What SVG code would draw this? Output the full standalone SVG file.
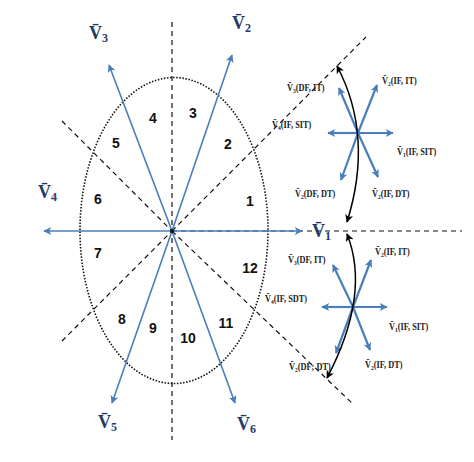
<svg xmlns="http://www.w3.org/2000/svg" width="474" height="462" viewBox="0 0 474 462">
<defs>
<marker id="ab" viewBox="0 0 10 10" refX="9" refY="5" markerWidth="9" markerHeight="8" orient="auto-start-reverse" markerUnits="userSpaceOnUse">
<path d="M0,0 L10,5 L0,10 L2.5,5 z" fill="#4A7EBB"/>
</marker>
<marker id="ak" viewBox="0 0 10 10" refX="9" refY="5" markerWidth="9" markerHeight="8" orient="auto-start-reverse" markerUnits="userSpaceOnUse">
<path d="M0,0 L10,5 L0,10 L2.5,5 z" fill="#000"/>
</marker>
<style>
.sb{stroke:#4A7EBB;stroke-width:1.6;fill:none;marker-end:url(#ab)}
.st{stroke:#4A7EBB;stroke-width:2.2;fill:none;marker-end:url(#ab)}
.dash{stroke:#111;stroke-width:1.2;stroke-dasharray:5 4;fill:none}
.dot{stroke:#111;stroke-width:1.6;stroke-dasharray:1.5 1.6;fill:none}
.cur{stroke:#000;stroke-width:1.5;fill:none;marker-start:url(#ak);marker-end:url(#ak)}
.big{font-family:"Liberation Serif",serif;font-weight:bold;font-size:18px;fill:#1F3A66}
.num{font-family:"Liberation Sans",sans-serif;font-weight:bold;font-size:14px;fill:#111}
.sm{font-family:"Liberation Serif",serif;font-weight:bold;font-size:10.5px;fill:#222}
.sub{font-size:7px}
</style>
</defs>
<g id="grid">
<line class="dash" x1="172" y1="22" x2="172" y2="440"/>
<line class="dash" x1="172" y1="231" x2="462" y2="231"/>
<line class="dash" x1="62" y1="121" x2="172" y2="231"/>
<line class="dash" x1="62" y1="341" x2="172" y2="231"/>
<line class="dash" x1="172" y1="231" x2="366" y2="37"/>
<line class="dash" x1="172" y1="231" x2="354" y2="405"/>
<ellipse class="dot" cx="174" cy="230.5" rx="94" ry="153"/>
</g>
<g id="vectors">
<line class="sb" x1="172" y1="231" x2="302" y2="231"/>
<line class="sb" x1="172" y1="231" x2="44" y2="231"/>
<line class="sb" x1="172" y1="231" x2="232" y2="55"/>
<line class="sb" x1="172" y1="231" x2="112" y2="403"/>
<line class="sb" x1="172" y1="231" x2="109" y2="65"/>
<line class="sb" x1="172" y1="231" x2="235" y2="403"/>
<circle cx="172" cy="231" r="2" fill="#111"/>
</g>
<g id="labels">
<text class="big" x="89" y="39">V&#x304;<tspan font-size="12" dy="3">3</tspan></text>
<text class="big" x="232" y="29">V&#x304;<tspan font-size="12" dy="3">2</tspan></text>
<text class="big" x="38" y="198">V&#x304;<tspan font-size="12" dy="3">4</tspan></text>
<text class="big" x="312" y="237">V&#x304;<tspan font-size="12" dy="3">1</tspan></text>
<text class="big" x="98" y="428">V&#x304;<tspan font-size="12" dy="3">5</tspan></text>
<text class="big" x="237" y="430">V&#x304;<tspan font-size="12" dy="3">6</tspan></text>
</g>
<g id="sectors">
<text class="num" x="250" y="206" text-anchor="middle">1</text>
<text class="num" x="228" y="149" text-anchor="middle">2</text>
<text class="num" x="193" y="118" text-anchor="middle">3</text>
<text class="num" x="153" y="123" text-anchor="middle">4</text>
<text class="num" x="116" y="148" text-anchor="middle">5</text>
<text class="num" x="98" y="204" text-anchor="middle">6</text>
<text class="num" x="98" y="258" text-anchor="middle">7</text>
<text class="num" x="122" y="324" text-anchor="middle">8</text>
<text class="num" x="153" y="333" text-anchor="middle">9</text>
<text class="num" x="188" y="343" text-anchor="middle">10</text>
<text class="num" x="226" y="328" text-anchor="middle">11</text>
<text class="num" x="250" y="273" text-anchor="middle">12</text>
</g>
<g id="star-upper">
<line class="st" x1="358" y1="133" x2="393" y2="133"/>
<line class="st" x1="358" y1="133" x2="328" y2="133"/>
<line class="st" x1="358" y1="133" x2="339" y2="88"/>
<line class="st" x1="358" y1="133" x2="377" y2="85"/>
<line class="st" x1="358" y1="133" x2="341" y2="180"/>
<line class="st" x1="358" y1="133" x2="378" y2="177"/>
</g>
<g id="star-lower">
<line class="st" x1="353" y1="307" x2="387" y2="307"/>
<line class="st" x1="353" y1="307" x2="322" y2="307"/>
<line class="st" x1="353" y1="307" x2="333" y2="265"/>
<line class="st" x1="353" y1="307" x2="371" y2="260"/>
<line class="st" x1="353" y1="307" x2="336" y2="353"/>
<line class="st" x1="353" y1="307" x2="370" y2="350"/>
</g>
<g id="connectors">
<path class="cur" d="M337,66 Q374,136 347,222"/>
<path class="cur" d="M347,234 Q371,294 327,378"/>
</g>
<g id="upper-labels">
<text class="sm" transform="translate(287,91) scale(0.79,1)">V&#x304;<tspan class="sub" dy="2">3</tspan><tspan dy="-2">(DF, IT)</tspan></text>
<text class="sm" transform="translate(382,84) scale(0.79,1)">V&#x304;<tspan class="sub" dy="2">2</tspan><tspan dy="-2">(IF, IT)</tspan></text>
<text class="sm" transform="translate(272,128) scale(0.79,1)">V&#x304;<tspan class="sub" dy="2">4</tspan><tspan dy="-2">(IF, SIT)</tspan></text>
<text class="sm" transform="translate(397,155) scale(0.79,1)">V&#x304;<tspan class="sub" dy="2">1</tspan><tspan dy="-2">(IF, SIT)</tspan></text>
<text class="sm" transform="translate(295,197) scale(0.79,1)">V&#x304;<tspan class="sub" dy="2">2</tspan><tspan dy="-2">(DF, DT)</tspan></text>
<text class="sm" transform="translate(372,197) scale(0.79,1)">V&#x304;<tspan class="sub" dy="2">2</tspan><tspan dy="-2">(IF, DT)</tspan></text>
</g>
<g id="lower-labels">
<text class="sm" transform="translate(288,263) scale(0.79,1)">V&#x304;<tspan class="sub" dy="2">3</tspan><tspan dy="-2">(DF, IT)</tspan></text>
<text class="sm" transform="translate(375,255) scale(0.79,1)">V&#x304;<tspan class="sub" dy="2">2</tspan><tspan dy="-2">(IF, IT)</tspan></text>
<text class="sm" transform="translate(265,302) scale(0.79,1)">V&#x304;<tspan class="sub" dy="2">4</tspan><tspan dy="-2">(IF, SDT)</tspan></text>
<text class="sm" transform="translate(389,330) scale(0.79,1)">V&#x304;<tspan class="sub" dy="2">1</tspan><tspan dy="-2">(IF, SIT)</tspan></text>
<text class="sm" transform="translate(289,370) scale(0.79,1)">V&#x304;<tspan class="sub" dy="2">2</tspan><tspan dy="-2">(DF; DT)</tspan></text>
<text class="sm" transform="translate(365,368) scale(0.79,1)">V&#x304;<tspan class="sub" dy="2">2</tspan><tspan dy="-2">(IF, DT)</tspan></text>
</g>
</svg>
